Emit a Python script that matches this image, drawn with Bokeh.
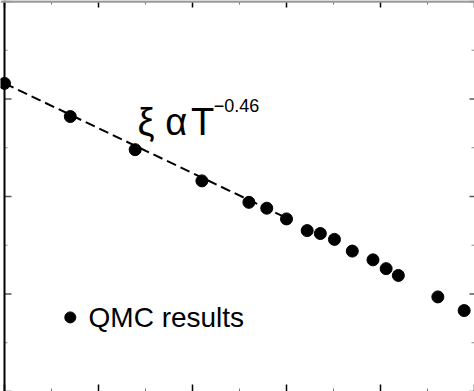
import math
from bokeh.plotting import figure
from bokeh.models import Span
from bokeh.core.properties import value
from bokeh.embed import file_html
from bokeh.resources import INLINE

# QMC results: log T (x) and log xi (y)
log_t = [0.0, 0.70, 1.39, 2.10, 2.60, 2.79, 3.00, 3.22, 3.36, 3.51, 3.70, 3.92, 4.06, 4.19, 4.61, 4.89]
log_xi = [3.16, 2.82, 2.48, 2.16, 1.94, 1.88, 1.77, 1.65, 1.62, 1.56, 1.44, 1.35, 1.26, 1.19, 0.97, 0.83]

# power-law fit xi ~ T^-0.46
fit_x = [0.0, 3.0]
fit_y = [3.16, 1.78]

x_major = [0, 1, 2, 3, 4, 5]
x_minor = [0.5, 1.5, 2.5, 3.5, 4.5]
y_major = [0, 1, 2, 3, 4]
y_minor = [0.5, 1.5, 2.5, 3.5]

X0, X1 = -4 / 94, 5.0
Y0, Y1 = 0.0, 4.01

p = figure(width=474, height=391, x_range=(X0, X1), y_range=(Y0, Y1),
           x_axis_location=None, y_axis_location=None,
           toolbar_location=None, output_backend="svg",
           min_border=0, outline_line_color=None,
           background_fill_color="white", border_fill_color="white",
           styles={"margin": "0px"})
p.grid.visible = False

# frame spines visible in the crop
p.add_layout(Span(location=0, dimension="height", line_color="black", line_width=2))
p.add_layout(Span(location=4, dimension="width", line_color="#9a9a9a", line_width=2.5))

# ticks (inward)
def ticks(xs, ys, angle, length, width, color):
    p.ray(x=xs, y=ys, length=length, angle=angle, length_units="screen",
          line_color=color, line_width=width)

ticks(x_major, [Y0] * len(x_major), math.pi / 2, 7, 1.5, "black")
ticks(x_minor, [Y0] * len(x_minor), math.pi / 2, 3, 1, "#777777")
ticks(x_major, [4] * len(x_major), -math.pi / 2, 6, 1.5, "black")
ticks(x_minor, [4] * len(x_minor), -math.pi / 2, 3, 1, "#777777")
ticks([0] * len(y_major), y_major, 0, 7, 1.5, "#555555")
ticks([0] * len(y_minor), y_minor, 0, 3, 1, "#888888")
ticks([X1] * len(y_major), y_major, math.pi, 5, 1.5, "#555555")
ticks([X1] * len(y_minor), y_minor, math.pi, 3, 1, "#888888")

# fit line
p.line(fit_x, fit_y, line_color="black", line_width=2, line_dash="10 5")

# data points
p.scatter(log_t, log_xi, size=12, color="black")

# formula annotation
p.text(x=[1.415, 1.71, 1.985], y=[2.76] * 3, text=["ξ", "α", "T"],
       text_font=value("Liberation Sans"), text_font_size="38px",
       text_baseline="alphabetic", text_align="left", text_color="black")
p.text(x=[2.225], y=[2.935], text=["\u22120.46"],
       text_font=value("Liberation Sans"), text_font_size="18px",
       text_baseline="alphabetic", text_align="left", text_color="black")

# legend
p.scatter([0.70], [0.76], size=11, color="black")
p.text(x=[0.894], y=[0.755], text=["QMC results"],
       text_font=value("Liberation Sans"), text_font_size="28px",
       text_baseline="alphabetic", text_align="left", text_color="black")

open("out.html", "w").write(file_html(p, INLINE))
